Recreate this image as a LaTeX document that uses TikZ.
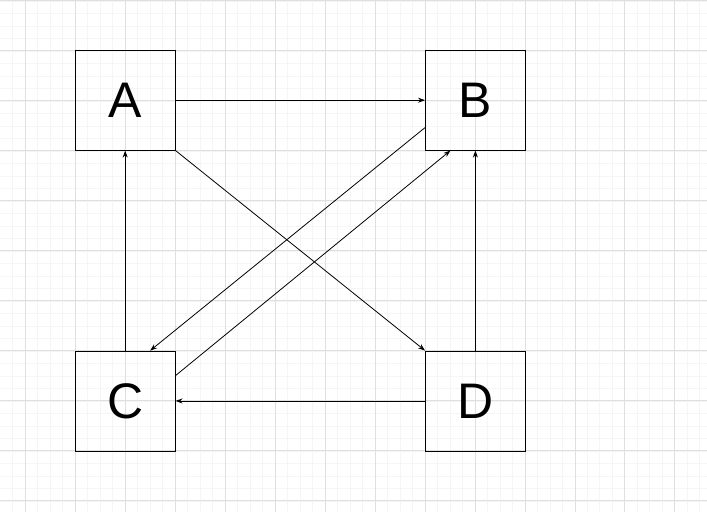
\documentclass[tikz,border=0pt]{standalone}
\usepackage{fontspec}
\setmainfont{Liberation Sans}
\usetikzlibrary{arrows.meta}
\begin{document}
\begin{tikzpicture}[x=1pt,y=-1pt,
  box/.style={draw,line width=0.8pt,minimum width=100pt,minimum height=100pt,inner sep=0pt,font=\fontsize{50}{50}\selectfont},
  arr/.style={draw,line width=0.8pt,-{Stealth[length=7pt,width=5pt]}}]
\fill[white] (0,0) rectangle (707,511);
\draw[gray!8,line width=0.6pt] (0.5,-0.3) grid[step=12.5pt] (707,511);
\begin{scope}[shift={(0,-0.3)}]
\foreach \x in {25,75,...,705} \draw[gray!25,line width=0.6pt] (\x,0) -- (\x,511);
\foreach \y in {-0.7,49.3,...,511} \draw[gray!25,line width=0.6pt] (0,\y) -- (707,\y);
\end{scope}
\node[box] (A) at (125,99) {A};
\node[box] (B) at (475.5,99) {B};
\node[box] (C) at (125,400) {C};
\node[box] (D) at (475.5,400) {D};
\draw[arr] (A.east) -- (B.west);
\draw[arr] (A.south east) -- (D.north west);
\draw[arr] ([yshift=23pt]B.south west) -- ([xshift=25pt]C.north);
\draw[arr] ([yshift=-25pt]C.north east) -- ([xshift=-25pt]B.south);
\draw[arr] (D.north) -- (B.south);
\draw[arr] (C.north) -- (A.south);
\draw[arr] (D.west) -- (C.east);
\end{tikzpicture}
\end{document}
